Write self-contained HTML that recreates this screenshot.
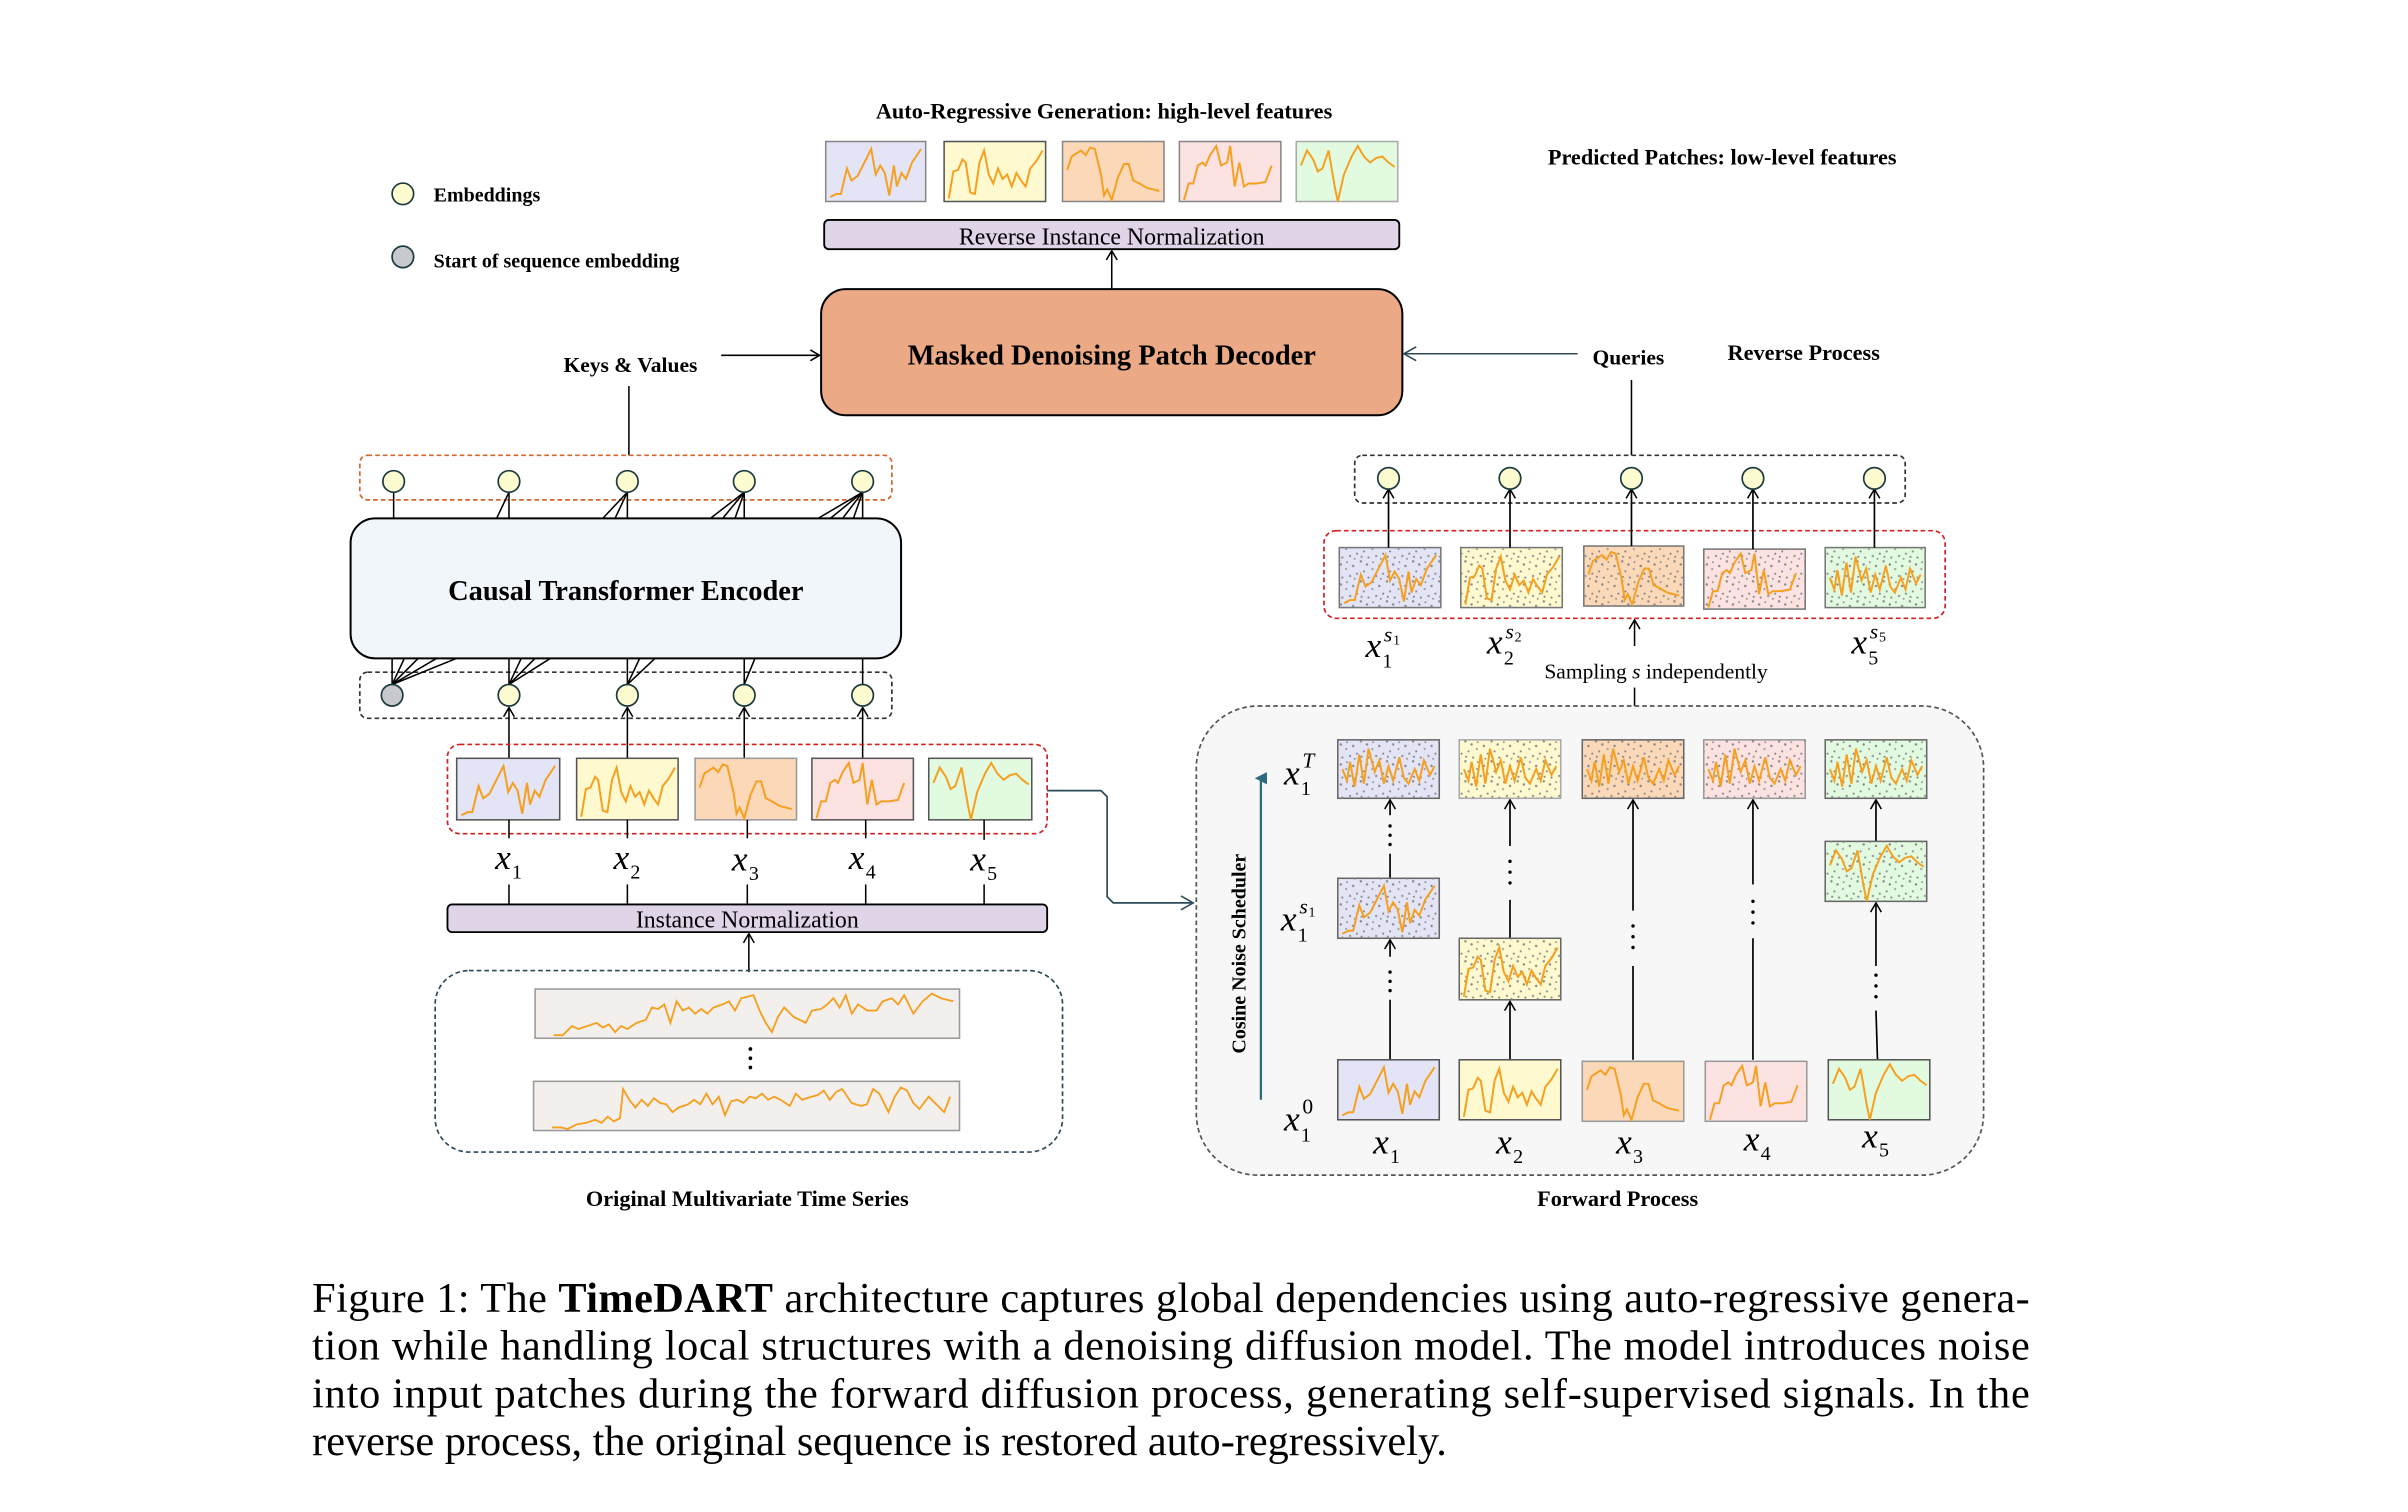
<!DOCTYPE html>
<html><head><meta charset="utf-8">
<style>
html,body{margin:0;padding:0;background:#fff;}
svg{display:block;}
text{font-family:"Liberation Serif",serif;fill:#000;}
.b{font-weight:bold;}
.m{font-style:italic;}
</style></head>
<body>
<svg width="2408" height="1512" viewBox="0 0 1566 983" preserveAspectRatio="none" xmlns="http://www.w3.org/2000/svg">
<defs>
<marker id="ar" markerWidth="8" markerHeight="8" refX="7" refY="4" orient="auto" markerUnits="userSpaceOnUse"><path d="M1,0.5 L7,4 L1,7.5" fill="none" stroke="#000" stroke-width="1"/></marker>
<marker id="arb" markerWidth="10" markerHeight="10" refX="9" refY="5" orient="auto" markerUnits="userSpaceOnUse"><path d="M1,0.5 L9,5 L1,9.5" fill="none" stroke="#2c4a5a" stroke-width="1"/></marker>
<marker id="art" markerWidth="8" markerHeight="8" refX="4" refY="4" orient="auto" markerUnits="userSpaceOnUse"><path d="M0,8 L4,0 L8,8 Z" fill="#2c6a80"/></marker>
<pattern id="nz" patternUnits="userSpaceOnUse" width="17" height="13">
<circle cx="1" cy="1" r="0.8" fill="#888"/><circle cx="5" cy="3" r="0.8" fill="#888"/><circle cx="3" cy="7.5" r="0.7" fill="#888"/><circle cx="8.5" cy="6" r="0.7" fill="#999"/><circle cx="9" cy="1.5" r="0.6" fill="#888"/>
<circle cx="13" cy="4" r="0.8" fill="#888"/><circle cx="15.5" cy="9" r="0.7" fill="#888"/><circle cx="11" cy="10.5" r="0.8" fill="#999"/><circle cx="6" cy="11.5" r="0.7" fill="#888"/><circle cx="1.5" cy="11" r="0.7" fill="#888"/><circle cx="14" cy="12.3" r="0.6" fill="#888"/>
</pattern>
<symbol id="p1" viewBox="0 0 66 40" preserveAspectRatio="none"><polyline fill="none" stroke="#f5a020" stroke-width="1.3" points="3,37 7,35 10,35 14,18 17,26 21,23 27,11 30,5 33,22 36,16 39,21 42,36 45,16 47,30 50,21 53,25 57,14 63,5"/></symbol>
<symbol id="p2" viewBox="0 0 66 40" preserveAspectRatio="none"><polyline fill="none" stroke="#f5a020" stroke-width="1.3" points="3,38 6,20 9,19 12,12 14,14 17,34 20,35 23,14 26,6 29,22 32,28 35,18 38,25 41,22 44,30 47,21 50,26 53,30 56,18 60,13 64,6"/></symbol>
<symbol id="p3" viewBox="0 0 66 40" preserveAspectRatio="none"><polyline fill="none" stroke="#f5a020" stroke-width="1.3" points="3,19 6,10 9,8 12,6 15,9 18,4 21,5 25,22 27,36 29,32 32,39 36,24 40,15 43,15 46,26 50,28 55,31 63,33"/></symbol>
<symbol id="p4" viewBox="0 0 66 40" preserveAspectRatio="none"><polyline fill="none" stroke="#f5a020" stroke-width="1.3" points="3,39 6,28 9,28 12,16 15,14 17,16 20,9 24,3 27,16 31,14 33,3 36,30 39,14 42,30 45,28 50,28 56,27 60,16"/></symbol>
<symbol id="p5" viewBox="0 0 66 40" preserveAspectRatio="none"><polyline fill="none" stroke="#f5a020" stroke-width="1.3" points="3,16 7,6 11,12 14,20 17,18 21,6 25,30 27,40 31,22 36,10 40,3 44,10 48,14 52,11 56,10 60,14 64,17"/></symbol>
<symbol id="p6" viewBox="0 0 66 40" preserveAspectRatio="none"><polyline fill="none" stroke="#f5a020" stroke-width="1.3" points="3,20 6,28 8,15 11,32 14,10 17,30 20,6 24,22 27,14 30,30 33,18 36,28 40,12 43,26 46,30 50,20 53,28 56,14 60,24 63,18"/></symbol>
<symbol id="L1" viewBox="0 0 276 32" preserveAspectRatio="none"><polyline fill="none" stroke="#f5a020" stroke-width="1.2" points="12,30 18,30 24,24 28,26 34,24 40,22 44,25 48,23 52,28 56,24 60,26 66,22 72,20 76,12 80,13 84,10 88,22 92,8 96,14 100,12 104,16 108,13 112,16 116,12 122,10 126,8 130,14 134,6 138,5 142,4 146,14 150,22 154,28 158,18 162,12 168,18 176,22 180,14 186,13 190,10 194,6 198,12 202,4 206,16 210,10 216,14 222,14 226,8 232,6 236,10 240,4 246,16 252,8 258,3 264,6 272,8"/></symbol>
<symbol id="L2" viewBox="0 0 276 32" preserveAspectRatio="none"><polyline fill="none" stroke="#f5a020" stroke-width="1.2" points="12,30 18,30 22,31 28,28 34,27 40,25 44,27 48,23 52,26 56,24 58,5 62,12 66,17 70,12 74,16 78,11 82,14 86,15 90,20 94,17 100,15 104,12 108,15 112,8 116,15 120,10 124,22 128,13 132,12 136,14 140,10 144,11 148,8 152,12 156,10 160,12 166,16 170,8 174,12 180,10 184,9 188,6 192,12 196,7 200,5 206,14 212,16 216,15 220,5 224,8 230,20 234,10 238,4 242,6 246,14 250,18 256,10 262,16 266,20 270,10"/></symbol>
</defs>

<!-- Top title & patches -->
<text x="718" y="77" font-size="14.5" text-anchor="middle" class="b">Auto-Regressive Generation: high-level features</text>
<g stroke="#888" stroke-width="1">
<rect x="537" y="92" width="65" height="39" fill="#e3e4f5"/>
<rect x="614" y="92" width="66" height="39" fill="#fff9d0" stroke="#555"/>
<rect x="691" y="92" width="66" height="39" fill="#fbd8b8"/>
<rect x="767" y="92" width="66" height="39" fill="#fde2e2"/>
<rect x="843" y="92" width="66" height="39" fill="#e2fbe0" stroke="#aaa"/>
</g>
<use href="#p1" x="537" y="92" width="65" height="39"/>
<use href="#p2" x="614" y="92" width="66" height="39"/>
<use href="#p3" x="691" y="92" width="66" height="39"/>
<use href="#p4" x="767" y="92" width="66" height="39"/>
<use href="#p5" x="843" y="92" width="66" height="39"/>
<rect x="536" y="143" width="374" height="19" rx="3" fill="#e0d4e8" stroke="#000" stroke-width="1.2"/>
<text x="723" y="159" font-size="15.5" text-anchor="middle">Reverse Instance Normalization</text>
<line x1="723" y1="188" x2="723" y2="163" stroke="#000" marker-end="url(#ar)"/>

<text x="1120" y="107" font-size="14.5" text-anchor="middle" class="b">Predicted Patches: low-level features</text>

<!-- Legend -->
<circle cx="262" cy="126" r="7" fill="#fdfbd0" stroke="#1b3a40" stroke-width="1.1"/>
<text x="282" y="131" font-size="13" class="b">Embeddings</text>
<circle cx="262" cy="167" r="7" fill="#c8c9cc" stroke="#1b3a40" stroke-width="1.1"/>
<text x="282" y="174" font-size="13" class="b">Start of sequence embedding</text>

<!-- Decoder -->
<rect x="534" y="188" width="378" height="82" rx="16" fill="#eba985" stroke="#000" stroke-width="1.3"/>
<text x="723" y="237" font-size="18.5" text-anchor="middle" class="b">Masked Denoising Patch Decoder</text>
<text x="410" y="242" font-size="14" text-anchor="middle" class="b">Keys &amp; Values</text>
<line x1="469" y1="231" x2="533" y2="231" stroke="#000" marker-end="url(#ar)"/>
<line x1="409" y1="251" x2="409" y2="296" stroke="#000"/>
<text x="1059" y="237" font-size="14" text-anchor="middle" class="b">Queries</text>
<line x1="1026" y1="230" x2="913" y2="230" stroke="#2c4a5a" marker-end="url(#arb)"/>
<line x1="1061" y1="247" x2="1061" y2="296" stroke="#000"/>
<text x="1173" y="234" font-size="14.5" text-anchor="middle" class="b">Reverse Process</text>

<!-- Encoder top embeddings -->
<rect x="234" y="296" width="346" height="29" rx="5" fill="none" stroke="#d2652a" stroke-width="1.1" stroke-dasharray="3,2"/>
<g stroke="#000" stroke-width="1">
<line x1="256" y1="320" x2="256" y2="337"/>
<line x1="331" y1="320" x2="331" y2="337"/><line x1="331" y1="320" x2="323" y2="337"/>
<line x1="408" y1="320" x2="408" y2="337"/><line x1="408" y1="320" x2="400" y2="337"/><line x1="408" y1="320" x2="392" y2="337"/>
<line x1="484" y1="320" x2="484" y2="337"/><line x1="484" y1="320" x2="478" y2="337"/><line x1="484" y1="320" x2="470" y2="337"/><line x1="484" y1="320" x2="462" y2="337"/>
<line x1="561" y1="320" x2="561" y2="337"/><line x1="561" y1="320" x2="555" y2="337"/><line x1="561" y1="320" x2="548" y2="337"/><line x1="561" y1="320" x2="540" y2="337"/><line x1="561" y1="320" x2="532" y2="337"/>
</g>
<g fill="#fdfbd0" stroke="#1b3a40" stroke-width="1.1">
<circle cx="256" cy="313" r="7"/><circle cx="331" cy="313" r="7"/><circle cx="408" cy="313" r="7"/><circle cx="484" cy="313" r="7"/><circle cx="561" cy="313" r="7"/>
</g>
<rect x="228" y="337" width="358" height="91" rx="16" fill="#f1f6fb" stroke="#000" stroke-width="1.3"/>
<text x="407" y="390" font-size="18.5" text-anchor="middle" class="b">Causal Transformer Encoder</text>

<!-- Encoder bottom embeddings -->
<rect x="234" y="437" width="346" height="30" rx="5" fill="none" stroke="#333" stroke-width="1.1" stroke-dasharray="3,2"/>
<g stroke="#000" stroke-width="1">
<line x1="255" y1="445" x2="255" y2="428"/><line x1="255" y1="445" x2="263" y2="428"/><line x1="255" y1="445" x2="272" y2="428"/><line x1="255" y1="445" x2="284" y2="428"/><line x1="255" y1="445" x2="297" y2="428"/>
<line x1="331" y1="445" x2="331" y2="428"/><line x1="331" y1="445" x2="339" y2="428"/><line x1="331" y1="445" x2="348" y2="428"/><line x1="331" y1="445" x2="358" y2="428"/>
<line x1="408" y1="445" x2="408" y2="428"/><line x1="408" y1="445" x2="416" y2="428"/><line x1="408" y1="445" x2="426" y2="428"/>
<line x1="484" y1="445" x2="484" y2="428"/><line x1="484" y1="445" x2="491" y2="428"/>
<line x1="561" y1="445" x2="561" y2="428"/>
<line x1="331" y1="493" x2="331" y2="460" marker-end="url(#ar)"/>
<line x1="408" y1="493" x2="408" y2="460" marker-end="url(#ar)"/>
<line x1="484" y1="493" x2="484" y2="460" marker-end="url(#ar)"/>
<line x1="561" y1="493" x2="561" y2="460" marker-end="url(#ar)"/>
</g>
<circle cx="255" cy="452" r="7" fill="#c8c9cc" stroke="#1b3a40" stroke-width="1.1"/>
<g fill="#fdfbd0" stroke="#1b3a40" stroke-width="1.1">
<circle cx="331" cy="452" r="7"/><circle cx="408" cy="452" r="7"/><circle cx="484" cy="452" r="7"/><circle cx="561" cy="452" r="7"/>
</g>

<!-- Input patches -->
<rect x="291" y="484" width="390" height="58" rx="8" fill="none" stroke="#d02020" stroke-width="1.1" stroke-dasharray="3,2"/>
<g stroke="#555" stroke-width="1">
<rect x="297" y="493" width="67" height="40" fill="#e3e4f5"/>
<rect x="375" y="493" width="66" height="40" fill="#fff9d0"/>
<rect x="452" y="493" width="66" height="40" fill="#fbd8b8" stroke="#999"/>
<rect x="528" y="493" width="66" height="40" fill="#fde2e2"/>
<rect x="604" y="493" width="67" height="40" fill="#e2fbe0"/>
</g>
<use href="#p1" x="297" y="493" width="67" height="40"/>
<use href="#p2" x="375" y="493" width="66" height="40"/>
<use href="#p3" x="452" y="493" width="66" height="40"/>
<use href="#p4" x="528" y="493" width="66" height="40"/>
<use href="#p5" x="604" y="493" width="67" height="40"/>
<g stroke="#000" stroke-width="1">
<line x1="331" y1="533" x2="331" y2="545"/><line x1="408" y1="533" x2="408" y2="545"/><line x1="486" y1="533" x2="486" y2="545"/><line x1="563" y1="533" x2="563" y2="545"/><line x1="640" y1="533" x2="640" y2="546"/>
<line x1="331" y1="575" x2="331" y2="588"/><line x1="408" y1="575" x2="408" y2="588"/><line x1="486" y1="575" x2="486" y2="588"/><line x1="563" y1="575" x2="563" y2="588"/><line x1="640" y1="575" x2="640" y2="588"/>
</g>
<g font-size="23" class="m">
<text x="322" y="565">x</text><text x="399" y="565">x</text>
<text x="476" y="566">x</text><text x="552" y="565">x</text><text x="631" y="566">x</text>
</g>
<g font-size="13">
<text x="333" y="571">1</text><text x="410" y="571">2</text><text x="487" y="572">3</text><text x="563" y="571">4</text><text x="642" y="572">5</text>
</g>
<rect x="291" y="588" width="390" height="18" rx="3" fill="#e0d4e8" stroke="#000" stroke-width="1.2"/>
<text x="486" y="603" font-size="15.5" text-anchor="middle">Instance Normalization</text>
<line x1="487" y1="632" x2="487" y2="607" stroke="#000" marker-end="url(#ar)"/>
<rect x="283" y="631" width="408" height="118" rx="22" fill="none" stroke="#2c4a5a" stroke-width="1.1" stroke-dasharray="3,2"/>
<rect x="348" y="643" width="276" height="32" fill="#f3efed" stroke="#999"/>
<rect x="347" y="703" width="277" height="32" fill="#f3efed" stroke="#999"/>
<use href="#L1" x="348" y="643" width="276" height="32"/>
<use href="#L2" x="347" y="703" width="277" height="32"/>
<g fill="#000"><circle cx="488" cy="682" r="1.2"/><circle cx="488" cy="688" r="1.2"/><circle cx="488" cy="694" r="1.2"/></g>
<text x="486" y="784" font-size="14.5" text-anchor="middle" class="b">Original Multivariate Time Series</text>

<!-- connector to forward -->
<polyline points="681,514 716,514 720,518 720,583 724,587 776,587" fill="none" stroke="#2c4a5a" stroke-width="1.1" marker-end="url(#arb)"/>

<!-- Right: queries embeddings -->
<rect x="881" y="296" width="358" height="31" rx="5" fill="none" stroke="#333" stroke-width="1.1" stroke-dasharray="3,2"/>
<rect x="861" y="345" width="404" height="57" rx="8" fill="none" stroke="#d02020" stroke-width="1.1" stroke-dasharray="3,2"/>
<g stroke="#777" stroke-width="1">
<rect x="871" y="356" width="66" height="39" fill="#e3e4f5"/>
<rect x="950" y="356" width="66" height="39" fill="#fff9d0"/>
<rect x="1030" y="355" width="65" height="39" fill="#fbd8b8"/>
<rect x="1108" y="357" width="66" height="39" fill="#fde2e2"/>
<rect x="1187" y="356" width="65" height="39" fill="#e2fbe0"/>
</g>
<g fill="url(#nz)">
<rect x="871" y="356" width="66" height="39"/><rect x="950" y="356" width="66" height="39"/><rect x="1030" y="355" width="65" height="39"/><rect x="1108" y="357" width="66" height="39"/><rect x="1187" y="356" width="65" height="39"/>
</g>
<use href="#p1" x="871" y="356" width="66" height="39"/>
<use href="#p2" x="950" y="356" width="66" height="39"/>
<use href="#p3" x="1030" y="355" width="65" height="39"/>
<use href="#p4" x="1108" y="357" width="66" height="39"/>
<use href="#p6" x="1187" y="356" width="65" height="39"/>
<g stroke="#000" stroke-width="1.1">
<line x1="903" y1="356" x2="903" y2="318" marker-end="url(#ar)"/>
<line x1="982" y1="356" x2="982" y2="318" marker-end="url(#ar)"/>
<line x1="1061" y1="355" x2="1061" y2="318" marker-end="url(#ar)"/>
<line x1="1140" y1="357" x2="1140" y2="318" marker-end="url(#ar)"/>
<line x1="1219" y1="356" x2="1219" y2="318" marker-end="url(#ar)"/>
</g>
<g fill="#fdfbd0" stroke="#1b3a40" stroke-width="1.1">
<circle cx="903" cy="311" r="7"/><circle cx="982" cy="311" r="7"/><circle cx="1061" cy="311" r="7"/><circle cx="1140" cy="311" r="7"/><circle cx="1219" cy="311" r="7"/>
</g>
<!-- x^{s} labels -->
<g font-size="23" class="m">
<text x="888" y="427">x</text><text x="967" y="425">x</text><text x="1204" y="425">x</text>
</g>
<g font-size="13">
<text x="899" y="434">1</text><text x="978" y="432">2</text><text x="1215" y="432">5</text>
</g>
<g font-size="14" class="m">
<text x="900" y="417">s</text><text x="979" y="415">s</text><text x="1216" y="415">s</text>
</g>
<g font-size="9">
<text x="906" y="419">1</text><text x="985" y="417">2</text><text x="1222" y="417">5</text>
</g>
<line x1="1063" y1="420" x2="1063" y2="403" stroke="#000" marker-end="url(#ar)"/>
<text x="1077" y="441" font-size="14" text-anchor="middle">Sampling <tspan font-style="italic">s</tspan> independently</text>
<line x1="1063" y1="447" x2="1063" y2="460" stroke="#000"/>

<!-- Forward process box -->
<rect x="778" y="459" width="512" height="305" rx="40" fill="#f7f7f7" stroke="#555" stroke-width="1.1" stroke-dasharray="3,2"/>
<text x="1052" y="784" font-size="14.5" text-anchor="middle" class="b">Forward Process</text>
<text transform="translate(810,620) rotate(-90)" font-size="13" text-anchor="middle" class="b">Cosine Noise Scheduler</text>
<line x1="820" y1="715" x2="820" y2="506" stroke="#2c6a80" stroke-width="1.5" marker-end="url(#art)"/>
<g font-size="23" class="m">
<text x="835" y="510">x</text><text x="833" y="605">x</text><text x="835" y="735">x</text>
</g>
<g font-size="13">
<text x="846" y="517">1</text><text x="844" y="612">1</text><text x="846" y="742">1</text>
</g>
<g font-size="14" class="m"><text x="847" y="499">T</text><text x="845" y="594">s</text></g>
<text x="851" y="596" font-size="9">1</text>
<text x="847" y="724" font-size="14">0</text>
<!-- column lines -->
<g stroke="#000" stroke-width="1.1">
<line x1="904" y1="689" x2="904" y2="650"/><line x1="904" y1="622" x2="904" y2="611" marker-end="url(#ar)"/>
<line x1="904" y1="571" x2="904" y2="555"/><line x1="904" y1="530" x2="904" y2="520" marker-end="url(#ar)"/>
<line x1="982" y1="689" x2="982" y2="651" marker-end="url(#ar)"/>
<line x1="982" y1="610" x2="982" y2="585"/><line x1="982" y1="550" x2="982" y2="520" marker-end="url(#ar)"/>
<line x1="1062" y1="689" x2="1062" y2="628"/><line x1="1062" y1="592" x2="1062" y2="520" marker-end="url(#ar)"/>
<line x1="1140" y1="689" x2="1140" y2="610"/><line x1="1140" y1="575" x2="1140" y2="520" marker-end="url(#ar)"/>
<line x1="1221" y1="689" x2="1220" y2="657"/><line x1="1220" y1="628" x2="1220" y2="587" marker-end="url(#ar)"/>
<line x1="1220" y1="547" x2="1220" y2="520" marker-end="url(#ar)"/>
</g>
<g fill="#000">
<circle cx="904" cy="632" r="1.1"/><circle cx="904" cy="638" r="1.1"/><circle cx="904" cy="644" r="1.1"/>
<circle cx="904" cy="537" r="1.1"/><circle cx="904" cy="543" r="1.1"/><circle cx="904" cy="549" r="1.1"/>
<circle cx="982" cy="560" r="1.1"/><circle cx="982" cy="567" r="1.1"/><circle cx="982" cy="574" r="1.1"/>
<circle cx="1062" cy="602" r="1.1"/><circle cx="1062" cy="609" r="1.1"/><circle cx="1062" cy="616" r="1.1"/>
<circle cx="1140" cy="586" r="1.1"/><circle cx="1140" cy="593" r="1.1"/><circle cx="1140" cy="600" r="1.1"/>
<circle cx="1220" cy="634" r="1.1"/><circle cx="1220" cy="641" r="1.1"/><circle cx="1220" cy="648" r="1.1"/>
</g>
<!-- forward patches -->
<g stroke="#666" stroke-width="1">
<rect x="870" y="481" width="66" height="38" fill="#e3e4f5"/>
<rect x="949" y="481" width="66" height="38" fill="#fff9d0" stroke="#aaa"/>
<rect x="1029" y="481" width="66" height="38" fill="#fbd8b8"/>
<rect x="1108" y="481" width="66" height="38" fill="#fde2e2" stroke="#999"/>
<rect x="1187" y="481" width="66" height="38" fill="#e2fbe0"/>
<rect x="870" y="571" width="66" height="39" fill="#e3e4f5"/>
<rect x="949" y="610" width="66" height="40" fill="#fff9d0"/>
<rect x="1187" y="547" width="66" height="39" fill="#e2fbe0"/>
</g>
<g fill="url(#nz)">
<rect x="870" y="481" width="66" height="38"/><rect x="949" y="481" width="66" height="38"/><rect x="1029" y="481" width="66" height="38"/><rect x="1108" y="481" width="66" height="38"/><rect x="1187" y="481" width="66" height="38"/>
<rect x="870" y="571" width="66" height="39"/><rect x="949" y="610" width="66" height="40"/><rect x="1187" y="547" width="66" height="39"/>
</g>
<use href="#p6" x="870" y="481" width="66" height="38"/>
<use href="#p6" x="949" y="481" width="66" height="38"/>
<use href="#p6" x="1029" y="481" width="66" height="38"/>
<use href="#p6" x="1108" y="481" width="66" height="38"/>
<use href="#p6" x="1187" y="481" width="66" height="38"/>
<use href="#p1" x="870" y="571" width="66" height="39"/>
<use href="#p2" x="949" y="610" width="66" height="40"/>
<use href="#p5" x="1187" y="547" width="66" height="39"/>
<g stroke="#555" stroke-width="1">
<rect x="870" y="689" width="66" height="39" fill="#e3e4f5"/>
<rect x="949" y="689" width="66" height="39" fill="#fff9d0"/>
<rect x="1029" y="690" width="66" height="39" fill="#fbd8b8" stroke="#999"/>
<rect x="1109" y="690" width="66" height="39" fill="#fde2e2" stroke="#999"/>
<rect x="1189" y="689" width="66" height="39" fill="#e2fbe0"/>
</g>
<use href="#p1" x="870" y="689" width="66" height="39"/>
<use href="#p2" x="949" y="689" width="66" height="39"/>
<use href="#p3" x="1029" y="690" width="66" height="39"/>
<use href="#p4" x="1109" y="690" width="66" height="39"/>
<use href="#p5" x="1189" y="689" width="66" height="39"/>
<g font-size="23" class="m">
<text x="893" y="750">x</text><text x="973" y="750">x</text><text x="1051" y="750">x</text><text x="1134" y="748">x</text><text x="1211" y="746">x</text>
</g>
<g font-size="13">
<text x="904" y="756">1</text><text x="984" y="756">2</text><text x="1062" y="756">3</text><text x="1145" y="754">4</text><text x="1222" y="752">5</text>
</g>

<!-- Caption -->
<g font-size="27.5">
<text x="203" y="853" textLength="1117" lengthAdjust="spacing">Figure 1: The <tspan class="b">TimeDART</tspan> architecture captures global dependencies using auto-regressive genera-</text>
<text x="203" y="884" textLength="1117" lengthAdjust="spacing">tion while handling local structures with a denoising diffusion model.  The model introduces noise</text>
<text x="203" y="915" textLength="1117" lengthAdjust="spacing">into input patches during the forward diffusion process, generating self-supervised signals.  In the</text>
<text x="203" y="946">reverse process, the original sequence is restored auto-regressively.</text>
</g>
</svg>
</body></html>
